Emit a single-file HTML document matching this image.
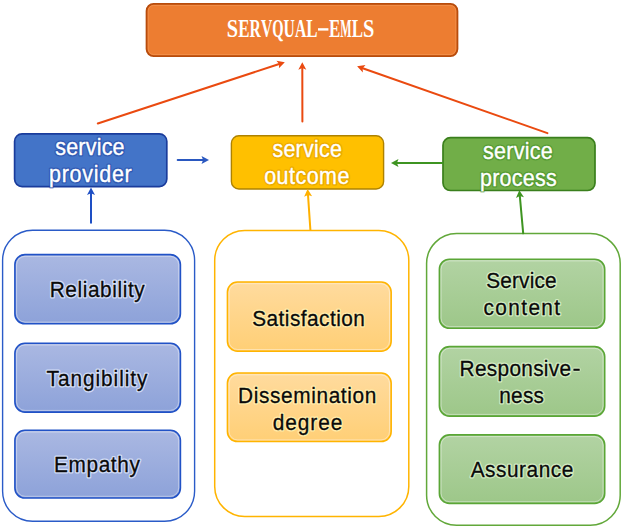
<!DOCTYPE html>
<html><head><meta charset="utf-8"><style>
html,body{margin:0;padding:0;background:#fff;width:624px;height:529px;overflow:hidden}
svg{display:block}
</style></head><body>
<svg width="624" height="529" viewBox="0 0 624 529">
<defs>
<linearGradient id="gb" x1="0" y1="0" x2="0" y2="1"><stop offset="0" stop-color="#AAB8E2"/><stop offset="1" stop-color="#8DA2D9"/></linearGradient>
<linearGradient id="gy" x1="0" y1="0" x2="0" y2="1"><stop offset="0" stop-color="#FFDB9E"/><stop offset="1" stop-color="#FFCF76"/></linearGradient>
<linearGradient id="gg" x1="0" y1="0" x2="0" y2="1"><stop offset="0" stop-color="#B2D3A3"/><stop offset="1" stop-color="#9DC789"/></linearGradient>
</defs>
<rect width="624" height="529" fill="#fff"/>
<rect x="146.6" y="3.9" width="310.80" height="52.20" rx="7" fill="#ED7D31" stroke="#B84C0C" stroke-width="1.9" />
<rect x="148.2" y="5.5" width="307.60" height="49.00" rx="5.5" fill="none" stroke="#F7A060" stroke-width="0.8" opacity="0.6"/>
<rect x="14.6" y="133.8" width="152.20" height="52.80" rx="7.5" fill="#4374C8" stroke="#1A3C9C" stroke-width="1.7" />
<rect x="231.4" y="135.8" width="152.20" height="53.20" rx="7.5" fill="#FFC000" stroke="#AE8200" stroke-width="1.4" />
<rect x="443" y="137.7" width="152.00" height="52.80" rx="7.5" fill="#71AE48" stroke="#3A7F1C" stroke-width="1.7" />
<rect x="2.6" y="230.3" width="192.00" height="291.00" rx="30" fill="none" stroke="#2A5BC8" stroke-width="1.4" />
<rect x="214.7" y="230.4" width="194.10" height="286.00" rx="30" fill="none" stroke="#FFB400" stroke-width="1.5" />
<rect x="426.6" y="233.6" width="193.60" height="291.60" rx="30" fill="none" stroke="#62A83A" stroke-width="1.5" />
<rect x="14.9" y="254.6" width="165.50" height="69.20" rx="10" fill="url(#gb)" stroke="#2152C6" stroke-width="1.6" />
<rect x="16.6" y="256.3" width="162.10" height="65.80" rx="8.5" fill="none" stroke="#FFFFFF" stroke-width="0.9" opacity="0.45"/>
<rect x="14.9" y="343.3" width="165.50" height="68.80" rx="10" fill="url(#gb)" stroke="#2152C6" stroke-width="1.6" />
<rect x="16.6" y="345.0" width="162.10" height="65.40" rx="8.5" fill="none" stroke="#FFFFFF" stroke-width="0.9" opacity="0.45"/>
<rect x="14.9" y="430.3" width="165.50" height="67.70" rx="10" fill="url(#gb)" stroke="#2152C6" stroke-width="1.6" />
<rect x="16.6" y="432.0" width="162.10" height="64.30" rx="8.5" fill="none" stroke="#FFFFFF" stroke-width="0.9" opacity="0.45"/>
<rect x="227.4" y="282" width="163.80" height="69.20" rx="10" fill="url(#gy)" stroke="#FFB400" stroke-width="1.5" />
<rect x="229.1" y="283.7" width="160.40" height="65.80" rx="8.5" fill="none" stroke="#FFFFFF" stroke-width="0.9" opacity="0.45"/>
<rect x="227.4" y="373.1" width="163.80" height="68.50" rx="10" fill="url(#gy)" stroke="#FFB400" stroke-width="1.5" />
<rect x="229.1" y="374.8" width="160.40" height="65.10" rx="8.5" fill="none" stroke="#FFFFFF" stroke-width="0.9" opacity="0.45"/>
<rect x="439.4" y="259.2" width="165.30" height="69.10" rx="10" fill="url(#gg)" stroke="#5AA636" stroke-width="1.6" />
<rect x="441.1" y="260.9" width="161.90" height="65.70" rx="8.5" fill="none" stroke="#FFFFFF" stroke-width="0.9" opacity="0.45"/>
<rect x="439.4" y="346.6" width="165.30" height="69.50" rx="10" fill="url(#gg)" stroke="#5AA636" stroke-width="1.6" />
<rect x="441.1" y="348.3" width="161.90" height="66.10" rx="8.5" fill="none" stroke="#FFFFFF" stroke-width="0.9" opacity="0.45"/>
<rect x="439.4" y="434.9" width="165.30" height="68.50" rx="10" fill="url(#gg)" stroke="#5AA636" stroke-width="1.6" />
<rect x="441.1" y="436.59999999999997" width="161.90" height="65.10" rx="8.5" fill="none" stroke="#FFFFFF" stroke-width="0.9" opacity="0.45"/>
<line x1="97.80" y1="123.50" x2="279.19" y2="64.04" stroke="#EA4A10" stroke-width="2.0" stroke-linecap="round"/>
<polygon points="284.80,62.20 278.92,68.34 279.19,64.04 276.43,60.74" fill="#EA4A10"/>
<line x1="302.40" y1="121.40" x2="302.31" y2="68.10" stroke="#EA4A10" stroke-width="2.0" stroke-linecap="round"/>
<polygon points="302.30,62.20 306.31,69.69 302.31,68.10 298.31,69.71" fill="#EA4A10"/>
<line x1="547.40" y1="133.10" x2="362.67" y2="68.25" stroke="#EA4A10" stroke-width="2.0" stroke-linecap="round"/>
<polygon points="357.10,66.30 365.50,65.01 362.67,68.25 362.85,72.56" fill="#EA4A10"/>
<line x1="177.70" y1="160.00" x2="203.10" y2="160.00" stroke="#2A58C0" stroke-width="2.0" stroke-linecap="round"/>
<polygon points="209.00,160.00 201.50,164.00 203.10,160.00 201.50,156.00" fill="#2A58C0"/>
<line x1="443.00" y1="163.00" x2="396.90" y2="163.00" stroke="#3E9421" stroke-width="2.0" stroke-linecap="round"/>
<polygon points="391.00,163.00 398.50,159.00 396.90,163.00 398.50,167.00" fill="#3E9421"/>
<line x1="91.00" y1="222.80" x2="91.00" y2="193.30" stroke="#1E4FC4" stroke-width="2.0" stroke-linecap="round"/>
<polygon points="91.00,187.40 95.00,194.90 91.00,193.30 87.00,194.90" fill="#1E4FC4"/>
<line x1="310.40" y1="230.00" x2="308.00" y2="194.89" stroke="#FFB000" stroke-width="2.0" stroke-linecap="round"/>
<polygon points="307.60,189.00 312.10,196.21 308.00,194.89 304.12,196.76" fill="#FFB000"/>
<line x1="523.20" y1="233.30" x2="519.83" y2="196.08" stroke="#3E9421" stroke-width="2.0" stroke-linecap="round"/>
<polygon points="519.30,190.20 523.96,197.31 519.83,196.08 515.99,198.03" fill="#3E9421"/>
<text x="232.48" y="36.5" text-anchor="middle" font-family="Liberation Serif" font-weight="bold" font-size="24.3" fill="#fff" stroke="#fff" stroke-width="0" textLength="11.3" lengthAdjust="spacingAndGlyphs">S</text>
<text x="243.83" y="36.5" text-anchor="middle" font-family="Liberation Serif" font-weight="bold" font-size="24.3" fill="#fff" stroke="#fff" stroke-width="0" textLength="11.3" lengthAdjust="spacingAndGlyphs">E</text>
<text x="255.18" y="36.5" text-anchor="middle" font-family="Liberation Serif" font-weight="bold" font-size="24.3" fill="#fff" stroke="#fff" stroke-width="0" textLength="11.3" lengthAdjust="spacingAndGlyphs">R</text>
<text x="266.53" y="36.5" text-anchor="middle" font-family="Liberation Serif" font-weight="bold" font-size="24.3" fill="#fff" stroke="#fff" stroke-width="0" textLength="11.3" lengthAdjust="spacingAndGlyphs">V</text>
<text x="277.88" y="36.5" text-anchor="middle" font-family="Liberation Serif" font-weight="bold" font-size="24.3" fill="#fff" stroke="#fff" stroke-width="0" textLength="11.3" lengthAdjust="spacingAndGlyphs">Q</text>
<text x="289.23" y="36.5" text-anchor="middle" font-family="Liberation Serif" font-weight="bold" font-size="24.3" fill="#fff" stroke="#fff" stroke-width="0" textLength="11.3" lengthAdjust="spacingAndGlyphs">U</text>
<text x="300.57" y="36.5" text-anchor="middle" font-family="Liberation Serif" font-weight="bold" font-size="24.3" fill="#fff" stroke="#fff" stroke-width="0" textLength="11.3" lengthAdjust="spacingAndGlyphs">A</text>
<text x="311.93" y="36.5" text-anchor="middle" font-family="Liberation Serif" font-weight="bold" font-size="24.3" fill="#fff" stroke="#fff" stroke-width="0" textLength="11.3" lengthAdjust="spacingAndGlyphs">L</text>
<rect x="318" y="28.2" width="10.4" height="2.4" fill="#fff"/>
<text x="334.62" y="36.5" text-anchor="middle" font-family="Liberation Serif" font-weight="bold" font-size="24.3" fill="#fff" stroke="#fff" stroke-width="0" textLength="11.3" lengthAdjust="spacingAndGlyphs">E</text>
<text x="345.98" y="36.5" text-anchor="middle" font-family="Liberation Serif" font-weight="bold" font-size="24.3" fill="#fff" stroke="#fff" stroke-width="0" textLength="11.3" lengthAdjust="spacingAndGlyphs">M</text>
<text x="357.32" y="36.5" text-anchor="middle" font-family="Liberation Serif" font-weight="bold" font-size="24.3" fill="#fff" stroke="#fff" stroke-width="0" textLength="11.3" lengthAdjust="spacingAndGlyphs">L</text>
<text x="368.68" y="36.5" text-anchor="middle" font-family="Liberation Serif" font-weight="bold" font-size="24.3" fill="#fff" stroke="#fff" stroke-width="0" textLength="11.3" lengthAdjust="spacingAndGlyphs">S</text>
<text x="90.00" y="138.21" transform="scale(1.0,1.12)" text-anchor="middle" font-family="Liberation Sans" font-weight="normal" font-size="21.5" letter-spacing="0.219" fill="#1E3F9E" stroke="#1E3F9E" stroke-width="2.8" stroke-linejoin="round" opacity="0.5">service</text>
<text x="90.00" y="138.21" transform="scale(1.0,1.12)" text-anchor="middle" font-family="Liberation Sans" font-weight="normal" font-size="21.5" letter-spacing="0.219" fill="#FFFFFF" stroke="#FFFFFF" stroke-width="0.35" stroke-linejoin="round">service</text>
<text x="90.75" y="162.68" transform="scale(1.0,1.12)" text-anchor="middle" font-family="Liberation Sans" font-weight="normal" font-size="21.5" letter-spacing="0.722" fill="#1E3F9E" stroke="#1E3F9E" stroke-width="2.8" stroke-linejoin="round" opacity="0.5">provider</text>
<text x="90.75" y="162.68" transform="scale(1.0,1.12)" text-anchor="middle" font-family="Liberation Sans" font-weight="normal" font-size="21.5" letter-spacing="0.722" fill="#FFFFFF" stroke="#FFFFFF" stroke-width="0.35" stroke-linejoin="round">provider</text>
<text x="307.25" y="140.45" transform="scale(1.0,1.12)" text-anchor="middle" font-family="Liberation Sans" font-weight="normal" font-size="21.5" letter-spacing="0.228" fill="#D89400" stroke="#D89400" stroke-width="2.8" stroke-linejoin="round" opacity="0.5">service</text>
<text x="307.25" y="140.45" transform="scale(1.0,1.12)" text-anchor="middle" font-family="Liberation Sans" font-weight="normal" font-size="21.5" letter-spacing="0.228" fill="#FFFFFF" stroke="#FFFFFF" stroke-width="0.35" stroke-linejoin="round">service</text>
<text x="307.00" y="164.55" transform="scale(1.0,1.12)" text-anchor="middle" font-family="Liberation Sans" font-weight="normal" font-size="21.5" letter-spacing="0.463" fill="#D89400" stroke="#D89400" stroke-width="2.8" stroke-linejoin="round" opacity="0.5">outcome</text>
<text x="307.00" y="164.55" transform="scale(1.0,1.12)" text-anchor="middle" font-family="Liberation Sans" font-weight="normal" font-size="21.5" letter-spacing="0.463" fill="#FFFFFF" stroke="#FFFFFF" stroke-width="0.35" stroke-linejoin="round">outcome</text>
<text x="518.00" y="141.79" transform="scale(1.0,1.12)" text-anchor="middle" font-family="Liberation Sans" font-weight="normal" font-size="21.5" letter-spacing="0.246" fill="#3A8A1E" stroke="#3A8A1E" stroke-width="2.8" stroke-linejoin="round" opacity="0.5">service</text>
<text x="518.00" y="141.79" transform="scale(1.0,1.12)" text-anchor="middle" font-family="Liberation Sans" font-weight="normal" font-size="21.5" letter-spacing="0.246" fill="#FFFFFF" stroke="#FFFFFF" stroke-width="0.35" stroke-linejoin="round">service</text>
<text x="518.50" y="166.25" transform="scale(1.0,1.12)" text-anchor="middle" font-family="Liberation Sans" font-weight="normal" font-size="21.5" letter-spacing="0.237" fill="#3A8A1E" stroke="#3A8A1E" stroke-width="2.8" stroke-linejoin="round" opacity="0.5">process</text>
<text x="518.50" y="166.25" transform="scale(1.0,1.12)" text-anchor="middle" font-family="Liberation Sans" font-weight="normal" font-size="21.5" letter-spacing="0.237" fill="#FFFFFF" stroke="#FFFFFF" stroke-width="0.35" stroke-linejoin="round">process</text>
<text x="104.84" y="297.50" transform="scale(0.93,1.0)" text-anchor="middle" font-family="Liberation Sans" font-weight="normal" font-size="22.4" letter-spacing="0.643" fill="#E6EEFF" stroke="#E6EEFF" stroke-width="3.0" stroke-linejoin="round" opacity="0.75">Reliability</text>
<text x="104.84" y="297.50" transform="scale(0.93,1.0)" text-anchor="middle" font-family="Liberation Sans" font-weight="normal" font-size="22.4" letter-spacing="0.643" fill="#0A0A0A" stroke="#0A0A0A" stroke-width="0.3" stroke-linejoin="round">Reliability</text>
<text x="104.84" y="386.10" transform="scale(0.93,1.0)" text-anchor="middle" font-family="Liberation Sans" font-weight="normal" font-size="22.4" letter-spacing="1.026" fill="#E6EEFF" stroke="#E6EEFF" stroke-width="3.0" stroke-linejoin="round" opacity="0.75">Tangibility</text>
<text x="104.84" y="386.10" transform="scale(0.93,1.0)" text-anchor="middle" font-family="Liberation Sans" font-weight="normal" font-size="22.4" letter-spacing="1.026" fill="#0A0A0A" stroke="#0A0A0A" stroke-width="0.3" stroke-linejoin="round">Tangibility</text>
<text x="104.57" y="472.40" transform="scale(0.93,1.0)" text-anchor="middle" font-family="Liberation Sans" font-weight="normal" font-size="22.4" letter-spacing="0.684" fill="#E6EEFF" stroke="#E6EEFF" stroke-width="3.0" stroke-linejoin="round" opacity="0.75">Empathy</text>
<text x="104.57" y="472.40" transform="scale(0.93,1.0)" text-anchor="middle" font-family="Liberation Sans" font-weight="normal" font-size="22.4" letter-spacing="0.684" fill="#0A0A0A" stroke="#0A0A0A" stroke-width="0.3" stroke-linejoin="round">Empathy</text>
<text x="331.99" y="325.60" transform="scale(0.93,1.0)" text-anchor="middle" font-family="Liberation Sans" font-weight="normal" font-size="22.4" letter-spacing="0.494" fill="#FFF6B8" stroke="#FFF6B8" stroke-width="3.0" stroke-linejoin="round" opacity="0.75">Satisfaction</text>
<text x="331.99" y="325.60" transform="scale(0.93,1.0)" text-anchor="middle" font-family="Liberation Sans" font-weight="normal" font-size="22.4" letter-spacing="0.494" fill="#0A0A0A" stroke="#0A0A0A" stroke-width="0.3" stroke-linejoin="round">Satisfaction</text>
<text x="330.65" y="402.80" transform="scale(0.93,1.0)" text-anchor="middle" font-family="Liberation Sans" font-weight="normal" font-size="22.4" letter-spacing="0.659" fill="#FFF6B8" stroke="#FFF6B8" stroke-width="3.0" stroke-linejoin="round" opacity="0.75">Dissemination</text>
<text x="330.65" y="402.80" transform="scale(0.93,1.0)" text-anchor="middle" font-family="Liberation Sans" font-weight="normal" font-size="22.4" letter-spacing="0.659" fill="#0A0A0A" stroke="#0A0A0A" stroke-width="0.3" stroke-linejoin="round">Dissemination</text>
<text x="331.18" y="430.30" transform="scale(0.93,1.0)" text-anchor="middle" font-family="Liberation Sans" font-weight="normal" font-size="22.4" letter-spacing="1.035" fill="#FFF6B8" stroke="#FFF6B8" stroke-width="3.0" stroke-linejoin="round" opacity="0.75">degree</text>
<text x="331.18" y="430.30" transform="scale(0.93,1.0)" text-anchor="middle" font-family="Liberation Sans" font-weight="normal" font-size="22.4" letter-spacing="1.035" fill="#0A0A0A" stroke="#0A0A0A" stroke-width="0.3" stroke-linejoin="round">degree</text>
<text x="560.75" y="288.20" transform="scale(0.93,1.0)" text-anchor="middle" font-family="Liberation Sans" font-weight="normal" font-size="22.4" letter-spacing="0.191" fill="#E2F6D2" stroke="#E2F6D2" stroke-width="3.0" stroke-linejoin="round" opacity="0.75">Service</text>
<text x="560.75" y="288.20" transform="scale(0.93,1.0)" text-anchor="middle" font-family="Liberation Sans" font-weight="normal" font-size="22.4" letter-spacing="0.191" fill="#0A0A0A" stroke="#0A0A0A" stroke-width="0.3" stroke-linejoin="round">Service</text>
<text x="561.83" y="315.20" transform="scale(0.93,1.0)" text-anchor="middle" font-family="Liberation Sans" font-weight="normal" font-size="22.4" letter-spacing="1.480" fill="#E2F6D2" stroke="#E2F6D2" stroke-width="3.0" stroke-linejoin="round" opacity="0.75">content</text>
<text x="561.83" y="315.20" transform="scale(0.93,1.0)" text-anchor="middle" font-family="Liberation Sans" font-weight="normal" font-size="22.4" letter-spacing="1.480" fill="#0A0A0A" stroke="#0A0A0A" stroke-width="0.3" stroke-linejoin="round">content</text>
<text x="554.30" y="375.60" transform="scale(0.93,1.0)" text-anchor="middle" font-family="Liberation Sans" font-weight="normal" font-size="22.4" letter-spacing="0.319" fill="#E2F6D2" stroke="#E2F6D2" stroke-width="3.0" stroke-linejoin="round" opacity="0.75">Responsive</text>
<text x="554.30" y="375.60" transform="scale(0.93,1.0)" text-anchor="middle" font-family="Liberation Sans" font-weight="normal" font-size="22.4" letter-spacing="0.319" fill="#0A0A0A" stroke="#0A0A0A" stroke-width="0.3" stroke-linejoin="round">Responsive</text>
<rect x="572.3" y="367.6" width="8.4" height="4.2" rx="2" fill="#E2F6D2" opacity="0.75"/><rect x="573.4" y="368.7" width="6.3" height="2.1" fill="#0A0A0A"/>
<text x="561.02" y="402.70" transform="scale(0.93,1.0)" text-anchor="middle" font-family="Liberation Sans" font-weight="normal" font-size="22.4" letter-spacing="0.233" fill="#E2F6D2" stroke="#E2F6D2" stroke-width="3.0" stroke-linejoin="round" opacity="0.75">ness</text>
<text x="561.02" y="402.70" transform="scale(0.93,1.0)" text-anchor="middle" font-family="Liberation Sans" font-weight="normal" font-size="22.4" letter-spacing="0.233" fill="#0A0A0A" stroke="#0A0A0A" stroke-width="0.3" stroke-linejoin="round">ness</text>
<text x="561.56" y="476.80" transform="scale(0.93,1.0)" text-anchor="middle" font-family="Liberation Sans" font-weight="normal" font-size="22.4" letter-spacing="0.562" fill="#E2F6D2" stroke="#E2F6D2" stroke-width="3.0" stroke-linejoin="round" opacity="0.75">Assurance</text>
<text x="561.56" y="476.80" transform="scale(0.93,1.0)" text-anchor="middle" font-family="Liberation Sans" font-weight="normal" font-size="22.4" letter-spacing="0.562" fill="#0A0A0A" stroke="#0A0A0A" stroke-width="0.3" stroke-linejoin="round">Assurance</text>
</svg>
</body></html>
